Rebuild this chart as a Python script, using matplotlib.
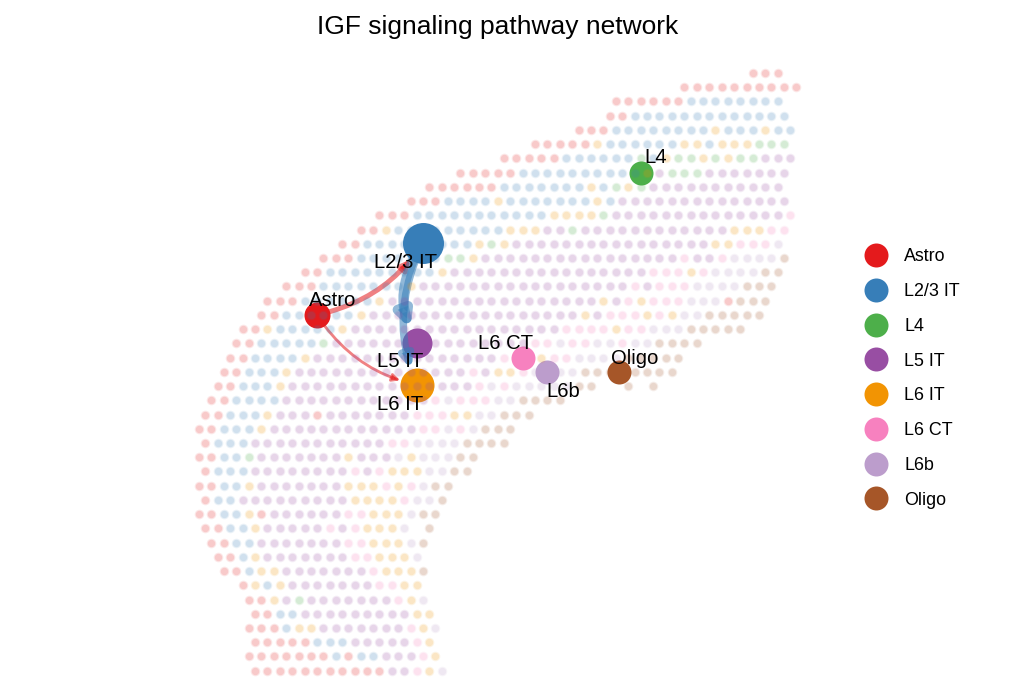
import re
import matplotlib
matplotlib.use("Agg")
import matplotlib.pyplot as plt
from matplotlib.lines import Line2D
from matplotlib.patches import FancyArrowPatch

plt.rcParams['font.family'] = ['Liberation Sans', 'DejaVu Sans']

# ---- cell groups ----
groups = ["Astro", "L2/3 IT", "L4", "L5 IT", "L6 IT", "L6 CT", "L6b", "Oligo"]
group_codes = ["A", "B", "G", "P", "O", "K", "V", "N"]
group_colors = ["#E41A1C", "#377EB8", "#4DAF4A", "#984EA3", "#F29403", "#F781BF", "#BC9DCC", "#A65628"]

# ---- node centroids (tissue grid units) and strengths (marker radius) ----
node_col = [18.96, 36.0, 71.04, 34.96, 34.96, 52.0, 55.93, 67.5]
node_row = [17.0, 11.95, 7.0, 18.94, 21.93, 20.0, 21.01, 21.01]
node_weight = [13.0, 20.5, 12.0, 15.0, 17.0, 12.0, 12.0, 12.0]

# ---- edges ----
edge_from = [0, 0, 1, 1]
edge_to = [1, 4, 3, 4]
edge_width = [5.0, 2.8, 10.0, 7.5]
edge_rad = [0.2, 0.2, 0.3, 0.22]

# ---- spots, row by row: first column, then runs of cell group ----
row_start = [89, 78, 67, 66, 61, 54, 49, 42, 37, 34, 29, 26, 23, 20, 17, 14, 11, 10, 7, 6, 5,
             4, 3, 2, 1, 0, 1, 0, 1, 0, 1, 0, 1, 2, 3, 4, 7, 8, 9, 8, 9, 8, 9]
row_runs = [
    "A3",
    "A10",
    "A6 B8",
    "A2 B13",
    "A3 B8 O1 B3 O1 B2",
    "A5 O1 B6 O2 B1 O3 G3",
    "A5 B6 G1 B1 O1 G2 O1 G1 O1 G2 P3",
    "A5 B10 O1 P1 G3 P7",
    "A6 B7 O1 B1 G1 O1 G1 P11",
    "A3 B4 O1 B7 O1 B1 P14",
    "A3 B11 O4 G1 P14 K1",
    "A2 O1 B9 O3 P2 G1 P12 O3 K2",
    "A2 B9 O1 G1 O1 P16 O2 K3 V1",
    "A3 B7 G2 O1 P16 K1 P2 K1 V4 N1",
    "A2 B9 O1 P16 K3 O1 K1 V4 N2",
    "A3 B7 O1 P17 K1 P1 K3 V4 N3",
    "A3 B6 O1 P17 O1 P1 K1 O1 K3 V3 A1 N3",
    "A2 B6 O1 P17 O1 P1 K3 O1 K1 O1 V2 N5",
    "A2 O1 B5 O1 P17 K4 O1 K2 V3 N5",
    "A2 B5 G1 P16 K2 V1 K2 V2 K1 V2 N4",
    "A2 B4 O1 P15 K3 O1 K2 V4 N5",
    "A2 B3 O1 P14 K1 P1 O2 K1 V4 N8",
    "A2 B3 O1 P15 K1 V1 K1 V5 N2 .2 N1 .1 N1",
    "A2 B4 P12 K1 V1 K3 V2 N4",
    "A2 B3 O1 P3 A1 P7 K3 O2 V2 N3",
    "A2 B3 O1 P12 K2 V1 K1 V1 N3",
    "A1 B3 P11 K2 V4 N4",
    "A2 B2 G1 P7 O1 P3 V1 O1 V3 N2",
    "A1 B3 P8 K1 P1 K1 O3 V2 N2",
    "A2 B2 O1 P7 O3 K1 O1 K1 V1 N2",
    "A1 B2 P9 O4 K1 V2 N1",
    "A2 B2 O1 A1 P6 K2 O3 V1 N2",
    "A2 B2 O1 P5 K1 P1 K1 O3 V1 .1 N1",
    "A2 B2 P7 K2 O3 V1 N1",
    "A2 B1 O1 P7 K2 O3 V1",
    "A2 B1 O2 P7 K1 O3 N1",
    "A1 O1 B1 O1 P7 K2 O2",
    "A2 O1 P1 G1 P7 K1 O1 V1",
    "A2 B2 P9 O2",
    "A3 B1 O2 P7 K1 O1 V1",
    "A5 B3 P5 K1 O1",
    "A7 B1 A1 B2 P3 K1 O1",
    "A11 P2 K1 O1 V1",
]

# label offsets in px
label_dx = [16, -17, 15, -16, -16, -17, 16, 16]
label_dy = [14, -19, 15, -19, -19, 14, -20, 13]

DPI = 100
fig = plt.figure(figsize=(10.18, 7.0), dpi=DPI)
ax = fig.add_axes([0, 0, 1, 1])
ax.set_xlim(-31.98, 131.63)
ax.set_ylim(44.06, -5.13)
ax.axis("off")

px = 72 / DPI
colors = dict(zip(group_codes, group_colors))

# nodes
for i, g in enumerate(groups):
    ax.scatter([node_col[i]], [node_row[i]], s=(2 * node_weight[i] * px) ** 2, color=group_colors[i],
               linewidths=0, zorder=3)

# edges
for a, b, w, rad in zip(edge_from, edge_to, edge_width, edge_rad):
    ax.add_patch(FancyArrowPatch(
        (node_col[a], node_row[a]), (node_col[b], node_row[b]),
        connectionstyle=f"arc3,rad={rad}",
        arrowstyle=f"-|>,head_length={3 + w * 0.5},head_width={1.5 + w * 0.25}",
        shrinkA=node_weight[a] * px, shrinkB=node_weight[b] * px,
        lw=w * px, color=group_colors[a], alpha=0.55, zorder=4))

# spots: soft rim plus slightly stronger centre
for r, (start, runs) in enumerate(zip(row_start, row_runs)):
    col = start
    for code, n in re.findall(r"([A-Z.])(\d+)", runs):
        for _ in range(int(n)):
            if code != ".":
                ax.scatter([col], [r], s=(2 * 4.8 * px) ** 2, color=colors[code], alpha=0.1,
                           linewidths=0, zorder=5)
                ax.scatter([col], [r], s=(2 * 3.7 * px) ** 2, color=colors[code], alpha=0.14,
                           linewidths=0, zorder=5)
            col += 2

# labels
for i, g in enumerate(groups):
    ax.annotate(g, (node_col[i], node_row[i]), xytext=(label_dx[i] * px, label_dy[i] * px),
                textcoords="offset points", ha="center", va="center", fontsize=14.6, color="black", zorder=6)

fig.text(0.4887, 0.9615, "IGF signaling pathway network", ha="center", va="center", fontsize=19)

handles = [Line2D([], [], ls="", marker="o", ms=24 * px, color=c, mew=0) for c in group_colors]
ax.legend(handles, groups, loc="center left", bbox_to_anchor=(0.843, 0.4593), frameon=False,
          fontsize=12.9, labelspacing=0.99, handletextpad=0.57, borderpad=0, borderaxespad=0)

fig.savefig("out.png", dpi=DPI)
